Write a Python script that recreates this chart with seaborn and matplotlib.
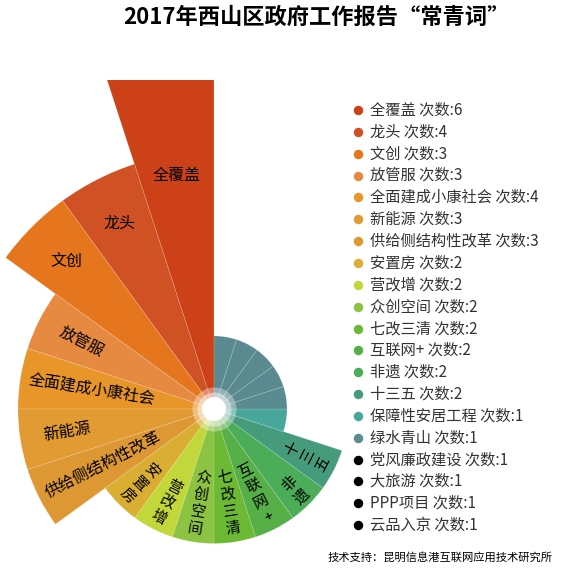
import numpy as np
import matplotlib
matplotlib.use("Agg")
import matplotlib.pyplot as plt
import seaborn as sns
from matplotlib.transforms import Bbox, TransformedBbox

# ---------------- data ----------------
categories = ["全覆盖", "龙头", "文创", "放管服", "全面建成小康社会", "新能源",
              "供给侧结构性改革", "安置房", "营改增", "众创空间", "七改三清",
              "互联网+", "非遗", "十三五", "保障性安居工程", "绿水青山",
              "党风廉政建设", "大旅游", "PPP项目", "云品入京"]
# counts as printed in the legend
legend_counts = [6, 4, 3, 3, 4, 3, 3, 2, 2, 2, 2, 2, 2, 2, 1, 1, 1, 1, 1, 1]
# bar lengths as drawn in the rose
bar_values = [6, 4, 4, 3, 3, 3, 3, 2, 2, 2, 2, 2, 2, 2, 1, 1, 1, 1, 1, 1]
wedge_colors = ["#cc4117", "#d05124", "#e6761e", "#e68a41", "#e8962a", "#e19b32",
                "#dd9833", "#d9ae33", "#c2d739", "#8cc342", "#6bb934", "#56b047",
                "#4bad57", "#479b7d", "#48a79b", "#5a8b90",
                "#5a8a8f", "#5a8a8f", "#5a8a8f", "#5a8a8f"]
legend_colors = wedge_colors[:16] + ["#000000"] * 4
title = "2017年西山区政府工作报告“常青词”"
footer = "技术支持：昆明信息港互联网应用技术研究所"

# ---------------- style ----------------
sns.set_theme(style="white")
plt.rcParams["font.family"] = ["Noto Sans CJK SC", "DejaVu Sans"]

W, H = 566, 568
fig = plt.figure(figsize=(W / 100, H / 100), dpi=100)

# geometry in pixels
cx, cy = 214, 409            # rose centre (from top-left)
S = 61.5                     # pixels per unit
rmin = -11.5 / S             # value 0 sits 11.5 px from the centre
rmax = 6.2
R = (rmax - rmin) * S
ax = fig.add_axes([(cx - R) / W, (H - cy - R) / H, 2 * R / W, 2 * R / H],
                  projection="polar")
ax.set_theta_zero_location("N")
ax.set_theta_direction(1)
ax.set_ylim(rmin, rmax)
ax.set_axis_off()

n = len(categories)
step = 360.0 / n
centers_deg = np.arange(n) * step + step / 2
bars = ax.bar(np.deg2rad(centers_deg), bar_values, width=np.deg2rad(step),
              bottom=0, color=wedge_colors, edgecolor=(1, 1, 1, 0.16),
              linewidth=0.6, zorder=2)
clip = TransformedBbox(Bbox([[0, 0], [1, (H - 80) / H]]), fig.transFigure)
for b in bars:
    b.set_clip_box(clip)

# centre hole
th = np.linspace(0, 2 * np.pi, 300)
def px2r(p):
    return p / S + rmin
ax.fill_between(th, px2r(0), px2r(22), color="white", alpha=0.35, zorder=3, lw=0)
ax.fill_between(th, px2r(0), px2r(17), color="white", alpha=0.45, zorder=3, lw=0)
ax.fill(th, np.full_like(th, px2r(12)), color="white", zorder=4, lw=0)

# labels
for name, v, phi in zip(categories, bar_values, centers_deg):
    if v < 2:
        continue
    r_out = (v - rmin) * S
    alpha = 90 + phi  # math angle
    if phi < 50:
        r_lab = 0.81 * min(r_out, 292)
        ax.text(np.deg2rad(phi), px2r(r_lab), name, ha="center", va="center",
                fontsize=11.5, color="black", zorder=5)
    elif phi < 120:
        L = len(name) * 16
        r_lab = min(0.76 * r_out, r_out - 0.5 * L - 8)
        ax.text(np.deg2rad(phi), px2r(r_lab), name, ha="center", va="center",
                rotation=alpha - 180, rotation_mode="anchor",
                fontsize=11.5, color="black", zorder=5)
    else:
        k = len(name)
        r_lab = r_out - 9 - (k - 1) * 10
        ax.text(np.deg2rad(phi), px2r(r_lab), "\n".join(name), ha="center",
                va="center", rotation=alpha - 270, rotation_mode="anchor",
                fontsize=10.8, linespacing=1.28, color="black", zorder=5)

# legend
lx_dot, lx_txt, ly0, pitch = 358, 370, 110, 21.85
for i, (name, c, col) in enumerate(zip(categories, legend_counts, legend_colors)):
    y = ly0 + i * pitch
    fig.add_artist(plt.Line2D([lx_dot / W], [1 - y / H], marker="o", markersize=5.8,
                              color=col, linestyle="none", transform=fig.transFigure))
    fig.text(lx_txt / W, 1 - y / H, f"{name} 次数:{c}", ha="left", va="center",
             fontsize=11, color="#333333")

fig.text(316 / W, 1 - 17 / H, title, ha="center", va="center", fontsize=16,
         fontweight="bold", color="black")
fig.text(553 / W, 1 - 557 / H, footer, ha="right", va="center", fontsize=8.1,
         color="black")

fig.savefig("out.png", dpi=100)
